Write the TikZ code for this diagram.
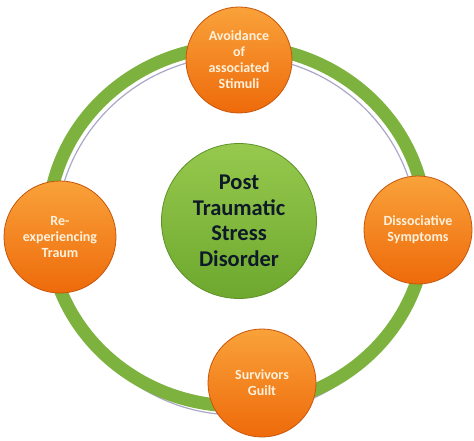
\documentclass[tikz,border=0pt]{standalone}
\usepackage{fontspec}
\setmainfont{Carlito}
\definecolor{ringgreen}{HTML}{7DB23E}
\definecolor{ringshadow}{HTML}{A9A9C6}
\definecolor{obright}{HTML}{F9A23A}
\definecolor{odark}{HTML}{EE6A0A}
\definecolor{oborder}{HTML}{C8560A}
\definecolor{otext}{HTML}{FFF1DC}
\definecolor{gbright}{HTML}{96C94E}
\definecolor{gdark}{HTML}{6EA82E}
\definecolor{gborder}{HTML}{5E9128}
\definecolor{htext}{HTML}{0E1A28}
\begin{document}
\begin{tikzpicture}[x=1pt,y=-1pt,
  bubble/.style={circle, draw=oborder, line width=0.8pt, top color=obright,
    bottom color=odark, text=otext, align=center, inner sep=0pt,
    font=\bfseries\fontsize{14}{16}\selectfont},
  hub/.style={circle, draw=gborder, line width=0.8pt, top color=gbright,
    bottom color=gdark, text=htext, align=center, inner sep=0pt,
    minimum size=155pt, font=\bfseries\fontsize{22.5}{25.5}\selectfont},
  ringline/.style={ringgreen, line width=13pt},
  ringshade/.style={ringshadow, line width=1.2pt}]
\useasboundingbox (0,0) rectangle (474,441);
\fill[white] (0,0) rectangle (474,441);
% ring
\draw[ringshade] (237,235.5) ellipse [x radius=181, y radius=179.5];
\draw[ringline] (237,226) ellipse [x radius=189, y radius=180];
% centre
\node[hub] (c) at (239,221) {Post\\Traumatic\\Stress\\Disorder};
% satellites
\node[bubble, minimum size=106pt] (t) at (239,60) {Avoidance\\of\\associated\\Stimuli};
\node[bubble, minimum size=112pt] (l) at (60,237) {Re-\\experiencing\\Traum};
\node[bubble, minimum size=108pt] (r) at (418,230) {Dissociative\\Symptoms};
\node[bubble, minimum size=108pt] (b) at (262,383) {Survivors\\Guilt};
\end{tikzpicture}
\end{document}
